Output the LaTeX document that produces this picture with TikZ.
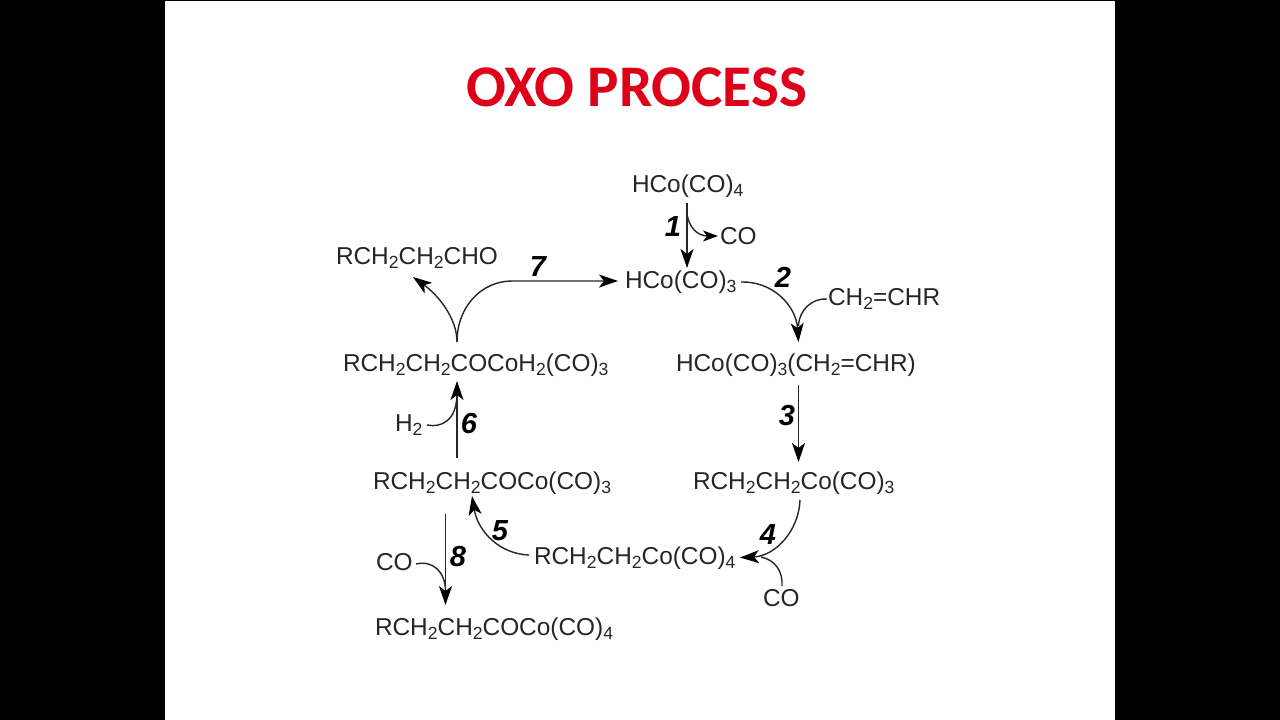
\documentclass[tikz,border=0pt]{standalone}
\usepackage{fontspec}
\usepackage{graphicx}
\usetikzlibrary{arrows.meta}
\setmainfont{Liberation Sans}
\newfontfamily\titlefont{Carlito}
\newcommand{\sbs}[1]{\raisebox{-.2em}{\scalebox{.72}{#1}}}
\tikzset{
  chem/.style={anchor=base west,inner sep=0pt,outer sep=0pt,font=\fontsize{24.4}{27}\selectfont,text=black!85},
  stepnum/.style={inner sep=0pt,font=\fontsize{29}{32}\selectfont\bfseries\itshape,text=black},
  rx/.style={draw=black!85,line width=1.4pt,-{Stealth[length=19pt,width=13pt,inset=5pt,black]}},
  branch/.style={draw=black!85,line width=1.4pt},
}
\begin{document}
\begin{tikzpicture}[x=1pt,y=-1pt]
\useasboundingbox (0,0) rectangle (1280,720);
\fill[black] (0,0) rectangle (1280,720);
\fill[white] (165,1) rectangle (1115,720);
\node[inner sep=0pt,anchor=base,font=\titlefont\fontsize{59}{63}\selectfont\bfseries,text={rgb,255:red,222;green,0;blue,24}] (title) at (636.5,106.5) {OXO PROCESS};

\node[chem] (hco4) at (632,192) {HCo(CO)\sbs{4}};
\node[chem] (co1) at (720,244) {CO};
\node[chem] (hco3) at (625,288) {HCo(CO)\sbs{3}};
\node[chem] (olefin) at (828,305) {CH\sbs{2}=CHR};
\node[chem] (complex) at (676,371) {HCo(CO)\sbs{3}(CH\sbs{2}=CHR)};
\node[chem] (alkyl3) at (693,489) {RCH\sbs{2}CH\sbs{2}Co(CO)\sbs{3}};
\node[chem] (alkyl4) at (534,564) {RCH\sbs{2}CH\sbs{2}Co(CO)\sbs{4}};
\node[chem] (co4) at (763,606) {CO};
\node[chem] (acyl3) at (373,489) {RCH\sbs{2}CH\sbs{2}COCo(CO)\sbs{3}};
\node[chem] (co8) at (376,570) {CO};
\node[chem] (acyl4) at (375,635) {RCH\sbs{2}CH\sbs{2}COCo(CO)\sbs{4}};
\node[chem] (h2) at (395,431) {H\sbs{2}};
\node[chem] (dihydride) at (343,371) {RCH\sbs{2}CH\sbs{2}COCoH\sbs{2}(CO)\sbs{3}};
\node[chem] (aldehyde) at (336,264) {RCH\sbs{2}CH\sbs{2}CHO};

\node[stepnum] (n1) at (673,227) {1};
\node[stepnum] (n2) at (783,277) {2};
\node[stepnum] (n3) at (787,416) {3};
\node[stepnum] (n4) at (768,535) {4};
\node[stepnum] (n5) at (500,531) {5};
\node[stepnum] (n6) at (469,424) {6};
\node[stepnum] (n7) at (538,267) {7};
\node[stepnum] (n8) at (458,557) {8};

% free ends and junctions
\coordinate (s1) at (687,203); \coordinate (e1) at (687,268); \coordinate (j1) at (687,214);
\coordinate (e1b) at (718,236);
\coordinate (s2) at (741,282); \coordinate (e2) at (798.5,342); \coordinate (s2b) at (827,299); \coordinate (j2) at (798.5,326);
\coordinate (s3) at (798.5,385); \coordinate (e3) at (798.5,462);
\coordinate (s4) at (800,500); \coordinate (e4) at (740,557.5); \coordinate (s4b) at (782,586); \coordinate (j4) at (761,557);
\coordinate (s5) at (529,555); \coordinate (e5) at (472,496);
\coordinate (s6) at (457,458); \coordinate (e6) at (457,381); \coordinate (s6b) at (427,425); \coordinate (j6) at (457,396);
\coordinate (s7) at (457,342); \coordinate (e7l) at (413,277); \coordinate (k7) at (512,281); \coordinate (e7r) at (618,281);
\coordinate (s8) at (445.5,514); \coordinate (e8) at (445.5,605); \coordinate (s8b) at (416,564); \coordinate (j8) at (445.5,590);

\path[rx] (s1) -- (e1);
\path[rx,-{Stealth[length=15pt,width=11pt,inset=4pt,black]}] (j1) .. controls (689,228) and (698,236) .. (e1b);
\path[rx] (s2) .. controls (772,281) and (796,305) .. (e2);
\path[branch] (s2b) .. controls (812,298) and (799,310) .. (j2);
\path[rx] (s3) -- (e3);
\path[rx] (s4) .. controls (799,530) and (776,556) .. (e4);
\path[branch] (s4b) .. controls (783,571) and (775,560) .. (j4);
\path[rx] (s5) .. controls (500,554) and (478,532) .. (e5);
\path[rx] (s6) -- (e6);
\path[branch] (s6b) .. controls (442,428) and (456,420) .. (j6);
\path[rx] (s7) .. controls (457,318) and (438,295) .. (e7l);
\path[rx] (s7) .. controls (457,306) and (482,281) .. (k7) -- (e7r);
\path[rx] (s8) -- (e8);
\path[branch] (s8b) .. controls (433,560) and (445,572) .. (j8);
\end{tikzpicture}
\end{document}
